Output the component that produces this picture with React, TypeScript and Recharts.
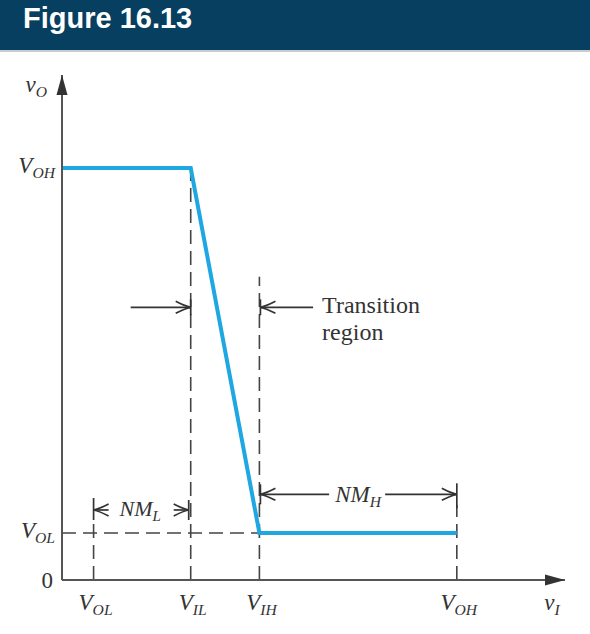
import React from "react";
import {
  ComposedChart,
  Line,
  XAxis,
  YAxis,
  ReferenceLine,
  ReferenceDot,
} from "recharts";

/* ------------------------------------------------------------------ */
/*  Data (schematic units)                        */
/* ------------------------------------------------------------------ */

const TITLE = "Figure 16.13";

// voltage transfer characteristic: input v_I -> output v_O
const VI_POINTS = [0, 1.63, 2.5, 5.0];
const VO_POINTS = [5.0, 5.0, 0.57, 0.57];

const X_TICKS = [0.4, 1.63, 2.5, 5.0, 6.18];
const X_TICK_LABELS = [
  ["V", "OL"],
  ["V", "IL"],
  ["V", "IH"],
  ["V", "OH"],
  ["v", "I"],
];
const Y_TICKS = [0, 0.57, 5.0, 5.97];
const Y_TICK_LABELS = [
  ["0", ""],
  ["V", "OL"],
  ["V", "OH"],
  ["v", "O"],
];

// key levels
const V_OL_IN = 0.4;
const V_IL = 1.63;
const V_IH = 2.5;
const V_OH_IN = 5.0;
const V_OL_OUT = 0.57;

// annotation levels
const NML_LEVEL = 0.85;
const NMH_LEVEL = 1.04;
const TRANSITION_LEVEL = 3.31;
const TRANSITION_FROM = 0.87;
const TRANSITION_TO = 3.18;

// dashed guide tops
const GUIDE_TOPS = [0.73, 4.95, 3.68, 0.91];

const X_MAX = 6.37;
const Y_MAX = 6.13;

/* ------------------------------------------------------------------ */
/*  Styles                                                             */
/* ------------------------------------------------------------------ */

const INK = "#333333";
const AXIS = "#555555";
const BLUE = "#1fa7e1";
const SERIF = "'Liberation Serif', 'Times New Roman', serif";
const DASH = "14 7";

const chartData = VI_POINTS.map((vi, i) => ({ vi, vo: VO_POINTS[i] }));

/* ------------------------------------------------------------------ */
/*  Helpers                                                            */
/* ------------------------------------------------------------------ */

function chevron(tipX: number, y: number, dir: number) {
  const b = tipX - dir * 15;
  const m = tipX - dir * 6;
  return `M${b},${y - 6} Q${m},${y - 1.2} ${tipX},${y} Q${m},${y + 1.2} ${b},${y + 6}`;
}

function SubLabel({
  x,
  y,
  main,
  sub,
  anchor,
  size = 23,
}: {
  x: number;
  y: number;
  main: string;
  sub: string;
  anchor: "start" | "middle" | "end";
  size?: number;
}) {
  const italic = main !== "0";
  return (
    <text
      x={x}
      y={y}
      textAnchor={anchor}
      fill={INK}
      stroke="none"
      fontFamily={SERIF}
      fontSize={size}
      fontStyle={italic ? "italic" : "normal"}
    >
      {main}
      {sub ? (
        <tspan fontSize={size * 0.68} dy={5}>
          {sub}
        </tspan>
      ) : null}
    </text>
  );
}

const XTick = (props: any) => {
  const { x, y, index } = props;
  const [main, sub] = X_TICK_LABELS[index] ?? ["", ""];
  return <SubLabel x={x + 2} y={y + 30} main={main} sub={sub} anchor="middle" />;
};

const YTick = (props: any) => {
  const { x, y, index } = props;
  const [main, sub] = Y_TICK_LABELS[index] ?? ["", ""];
  if (main === "0") return <SubLabel x={x - 2} y={y + 8} main={main} sub="" anchor="end" />;
  if (main === "v") return <SubLabel x={x - 8} y={y + 4} main={main} sub={sub} anchor="end" />;
  return <SubLabel x={x} y={y + 5} main={main} sub={sub} anchor="end" />;
};

const nmlShape = (p: any) => {
  const { x1, y1, x2 } = p;
  const mid = (x1 + x2) / 2;
  return (
    <g stroke={INK} strokeWidth={1.7} fill="none">
      <line x1={x1} y1={y1 - 12} x2={x1} y2={y1 + 10} />
      <line x1={x1} y1={y1} x2={x1 + 15} y2={y1} />
      <path d={chevron(x1, y1, -1)} />
      <line x1={x2 - 2} y1={y1 - 10} x2={x2 - 2} y2={y1 + 10} />
      <line x1={x2 - 17} y1={y1} x2={x2 - 2} y2={y1} />
      <path d={chevron(x2 - 2, y1, 1)} />
      <SubLabel x={mid - 2} y={y1 + 6} main="NM" sub="L" anchor="middle" size={22} />
    </g>
  );
};

const nmhShape = (p: any) => {
  const { x1, y1, x2 } = p;
  const mid = (x1 + x2) / 2;
  return (
    <g stroke={INK} strokeWidth={1.7} fill="none">
      <line x1={x1 + 1} y1={y1 - 10} x2={x1 + 1} y2={y1 + 10} />
      <line x1={x1 + 1} y1={y1} x2={mid - 29} y2={y1} />
      <path d={chevron(x1 + 1, y1, -1)} />
      <line x1={mid + 27} y1={y1} x2={x2} y2={y1} />
      <line x1={x2} y1={y1 - 11} x2={x2} y2={y1 + 14} />
      <path d={chevron(x2, y1, 1)} />
      <SubLabel x={mid} y={y1 + 8} main="NM" sub="H" anchor="middle" size={23} />
    </g>
  );
};

const pushRightShape = (p: any) => {
  const { x1, y1, x2 } = p;
  return (
    <g stroke={INK} strokeWidth={1.7} fill="none">
      <line x1={x1} y1={y1} x2={x2} y2={y1} />
      <path d={chevron(x2, y1, 1)} />
      <line x1={x2} y1={y1 - 8} x2={x2} y2={y1 + 8} />
    </g>
  );
};

const pushLeftShape = (p: any) => {
  const { x1, y1, x2 } = p;
  return (
    <g stroke={INK} strokeWidth={1.7} fill="none">
      <line x1={x1 + 1} y1={y1} x2={x2} y2={y1} />
      <path d={chevron(x1 + 1, y1, -1)} />
      <line x1={x1 + 1} y1={y1 - 8} x2={x1 + 1} y2={y1 + 8} />
      <text x={x2 + 9} y={y1 + 6} fill={INK} stroke="none" fontFamily={SERIF} fontSize={24}>
        Transition
      </text>
      <text x={x2 + 9} y={y1 + 33} fill={INK} stroke="none" fontFamily={SERIF} fontSize={24}>
        region
      </text>
    </g>
  );
};

const xArrow = (p: any) => (
  <path d={`M${p.cx},${p.cy} L${p.cx - 20},${p.cy - 5.5} L${p.cx - 20},${p.cy + 5.5} Z`} fill="#333" />
);
const yArrow = (p: any) => (
  <path d={`M${p.cx},${p.cy} L${p.cx - 5.5},${p.cy + 20} L${p.cx + 5.5},${p.cy + 20} Z`} fill="#333" />
);

/* ------------------------------------------------------------------ */
/*  Component                                                          */
/* ------------------------------------------------------------------ */

export default function App() {
  const guideXs = [V_OL_IN, V_IL, V_IH, V_OH_IN];
  return (
    <div style={{ position: "absolute", left: 0, top: 0, width: 590, height: 634, background: "#fff" }}>
      <div
        style={{
          position: "absolute",
          left: 0,
          top: 0,
          width: 590,
          height: 50,
          background: "#063f5f",
          borderBottom: "2px solid #c8ccd0",
          zIndex: 2,
        }}
      >
        <span
          style={{
            position: "absolute",
            left: 23,
            top: 4,
            lineHeight: "28px",
            fontFamily: "'Liberation Sans', Arial, sans-serif",
            fontWeight: 700,
            fontSize: 29,
            color: "#fff",
          }}
        >
          {TITLE}
        </span>
      </div>
      <ComposedChart
        width={590}
        height={634}
        data={chartData}
        margin={{ top: 75, right: 25, left: 0, bottom: 0 }}
      >
        <XAxis
          type="number"
          dataKey="vi"
          domain={[0, X_MAX]}
          allowDataOverflow
          ticks={X_TICKS}
          interval={0}
          height={54}
          tickSize={0}
          tickMargin={0}
          tickLine={false}
          axisLine={{ stroke: AXIS, strokeWidth: 2 }}
          tick={<XTick />}
        />
        <YAxis
          type="number"
          domain={[0, Y_MAX]}
          allowDataOverflow
          ticks={Y_TICKS}
          interval={0}
          width={62}
          tickSize={0}
          tickMargin={7}
          tickLine={false}
          axisLine={{ stroke: AXIS, strokeWidth: 2 }}
          tick={<YTick />}
        />

        {guideXs.map((gx, i) => (
          <ReferenceLine
            key={`g${i}`}
            segment={[
              { x: gx, y: 0 },
              { x: gx, y: GUIDE_TOPS[i] },
            ]}
            stroke="#444"
            strokeWidth={1.6}
            strokeDasharray={DASH}
          />
        ))}
        <ReferenceLine
          segment={[
            { x: 0, y: V_OL_OUT },
            { x: V_IH, y: V_OL_OUT },
          ]}
          stroke="#444"
          strokeWidth={1.6}
          strokeDasharray={DASH}
        />

        <ReferenceLine
          segment={[
            { x: V_OL_IN, y: NML_LEVEL },
            { x: V_IL, y: NML_LEVEL },
          ]}
          shape={nmlShape}
        />
        <ReferenceLine
          segment={[
            { x: V_IH, y: NMH_LEVEL },
            { x: V_OH_IN, y: NMH_LEVEL },
          ]}
          shape={nmhShape}
        />
        <ReferenceLine
          segment={[
            { x: TRANSITION_FROM, y: TRANSITION_LEVEL },
            { x: V_IL, y: TRANSITION_LEVEL },
          ]}
          shape={pushRightShape}
        />
        <ReferenceLine
          segment={[
            { x: V_IH, y: TRANSITION_LEVEL },
            { x: TRANSITION_TO, y: TRANSITION_LEVEL },
          ]}
          shape={pushLeftShape}
        />

        <Line
          type="linear"
          dataKey="vo"
          stroke={BLUE}
          strokeWidth={4}
          strokeLinejoin="miter"
          dot={false}
          activeDot={false}
          isAnimationActive={false}
        />

        <ReferenceDot x={X_MAX} y={0} ifOverflow="visible" shape={xArrow} />
        <ReferenceDot x={0} y={Y_MAX} ifOverflow="visible" shape={yArrow} />
      </ComposedChart>
    </div>
  );
}
